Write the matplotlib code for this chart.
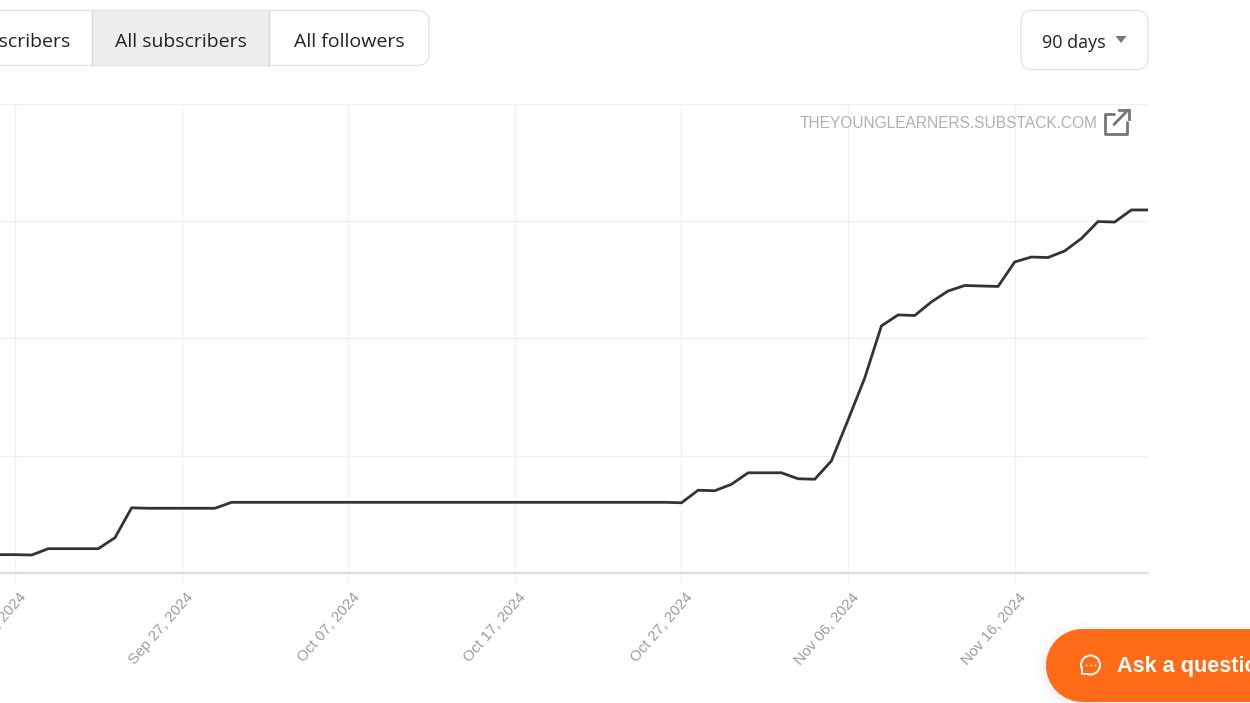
import datetime as dt
import matplotlib
matplotlib.use("Agg")
import matplotlib.pyplot as plt
import matplotlib.dates as mdates
from matplotlib.patches import FancyBboxPatch, Rectangle, Polygon, Circle

# daily values, first day is Sep 16 (y labels are cut off, so units are a guess)
start_day = dt.date(2024, 9, 16)
subscribers = [
    15.4, 15.4, 15.1, 20.5, 20.5, 20.5, 20.5, 29.9, 55.4, 55.0,
    55.0, 55.0, 55.0, 55.0, 60.1, 60.1, 60.1, 60.1, 60.1, 60.1,
    60.1, 60.1, 60.1, 60.1, 60.1, 60.1, 60.1, 60.1, 60.1, 60.1,
    60.1, 60.1, 60.1, 60.1, 60.1, 60.1, 60.1, 60.1, 60.1, 60.1,
    60.1, 59.7, 70.4, 70.0, 75.5, 85.3, 85.3, 85.3, 80.2, 79.8,
    95.5, 130.5, 166.3, 210.7, 220.1, 219.6, 231.2, 240.5, 245.2, 244.8,
    244.4, 265.3, 269.5, 269.1, 274.7, 285.3, 299.8, 299.4, 309.7, 309.7,
]
days = [start_day + dt.timedelta(days=i) for i in range(len(subscribers))]

tick_days = [dt.date(2024, 9, 17), dt.date(2024, 9, 27), dt.date(2024, 10, 7), dt.date(2024, 10, 17),
             dt.date(2024, 10, 27), dt.date(2024, 11, 6), dt.date(2024, 11, 16)]
y_ticks = [0, 100, 200, 300, 400]
tab_labels = ["Paid subscribers", "All subscribers", "All followers"]
range_label = "90 days"
site_label = "THEYOUNGLEARNERS.SUBSTACK.COM"
ask_label = "Ask a question"

W, H = 1250, 703
GRID = "#f1f1f1"
BORDER = "#e3e3e3"
UI_TEXT = "#222222"
ORANGE = "#ff6b17"

fig = plt.figure(figsize=(W / 100, H / 100), dpi=100)

# chart area, 0..1148 px across and 104..573 px down
ax = fig.add_axes([0, 1 - 572.7 / H, 1148 / W, (572.7 - 104.2) / H])
px_per_day = 16.67
ax.set_xlim(mdates.date2num(dt.date(2024, 9, 27)) - 181.7 / px_per_day, mdates.date2num(dt.date(2024, 11, 24)))
ax.set_ylim(0, 400)
ax.plot(days, subscribers, color="#333333", lw=2.0, solid_joinstyle="round", zorder=3)

ax.set_xticks(tick_days)
ax.set_xticklabels([])
# the labels sit a little right of their ticks, so they are placed with an offset
for d in tick_days:
    ax.annotate(d.strftime("%b %d, %Y"), xy=(mdates.date2num(d), 0), xycoords=("data", "axes fraction"),
                xytext=(2.5, -12.6), textcoords="offset points", rotation=49, ha="right", va="top",
                rotation_mode="anchor", fontsize=10.9, family="Liberation Sans", color="#9c9c9c",
                annotation_clip=False)
ax.set_yticks(y_ticks)
ax.tick_params(axis="x", length=7.2, width=1, color=GRID)
ax.tick_params(axis="y", length=0, labelleft=False)
ax.grid(True, color=GRID, lw=1)
ax.set_axisbelow(True)
for side in ["top", "right", "left"]:
    ax.spines[side].set_visible(False)
ax.spines["bottom"].set_color("#dedede")
ax.spines["bottom"].set_linewidth(1.6)

# page furniture on top, in pixel coordinates
ui = fig.add_axes([0, 0, 1, 1], facecolor="none")
ui.set_xlim(0, W)
ui.set_ylim(H, 0)
ui.axis("off")


def rounded(x0, y0, x1, y1, r, **kw):
    ui.add_patch(FancyBboxPatch((x0 + r, y0 + r), x1 - x0 - 2 * r, y1 - y0 - 2 * r,
                                boxstyle=f"round,pad={r},rounding_size={r}", **kw))


def pill(x0, y0, x1, y1, **kw):
    r = (y1 - y0) / 2
    ui.add_patch(Circle((x0 + r, y0 + r), r, ec="none", **kw))
    ui.add_patch(Rectangle((x0 + r, y0), x1 - x0 - r, y1 - y0, ec="none", **kw))


rounded(-30, 10.5, 429, 65.5, 12, fc="white", ec=BORDER, lw=1)
ui.add_patch(Rectangle((92, 11), 177, 54, fc="#eeeeee", ec="none"))
ui.plot([92, 92], [11, 65], color="#dddddd", lw=1)
ui.plot([269, 269], [11, 65], color="#d5d5d5", lw=1)
ui.text(70, 42, tab_labels[0], ha="right", va="center", fontsize=14, family="Open Sans", color=UI_TEXT)
ui.text(181, 42, tab_labels[1], ha="center", va="center", fontsize=14, family="Open Sans", color=UI_TEXT)
ui.text(349.5, 42, tab_labels[2], ha="center", va="center", fontsize=14, family="Open Sans", color=UI_TEXT)

rounded(1021, 10.5, 1148, 69.5, 12, fc="white", ec=BORDER, lw=1)
ui.text(1074, 43, range_label, ha="center", va="center", fontsize=13, family="Open Sans", color=UI_TEXT)
ui.add_patch(Polygon([[1115.5, 36], [1126.5, 36], [1121, 43]], closed=True, fc="#777777", ec="none"))

ui.text(1097.5, 123, site_label, ha="right", va="center", fontsize=11.2, family="Liberation Sans", color="#b0b0b0")
# external link icon
ui.plot([1114, 1104.5, 1104.5, 1126.5, 1126.5], [113.5, 113.5, 133.5, 133.5, 122], color="#757575", lw=2.0,
        solid_joinstyle="round", solid_capstyle="round")
ui.plot([1114, 1128], [124.5, 110], color="#757575", lw=2.0, solid_capstyle="round")
ui.plot([1119, 1128.5, 1128.5], [110, 110, 119], color="#757575", lw=2.0, solid_joinstyle="miter")

# orange help button with a soft shadow
for grow, alpha in [(9, 0.012), (6, 0.015), (3, 0.02)]:
    pill(1046 - grow, 629 - grow + 3, 1320 + grow, 702 + grow + 3, fc="black", alpha=alpha)
pill(1046, 629, 1320, 702, fc=ORANGE)
ui.text(1117, 666.5, ask_label, ha="left", va="center", fontsize=15.6, fontweight="bold",
        family="Liberation Sans", color="white")
ui.add_patch(Circle((1090.5, 665), 9.5, fc="none", ec="white", lw=1.4))
ui.add_patch(Polygon([[1081, 665], [1081, 675], [1090, 674.5]], closed=True, fc="white", ec="none", alpha=0.9))
ui.add_patch(Polygon([[1083, 666], [1083, 672.5], [1090, 672.5]], closed=True, fc=ORANGE, ec="none"))
ui.plot([1086, 1090.5, 1095], [665, 665, 665], ls="none", marker="o", ms=1.3, mew=0, color="white")

fig.savefig("out.png", dpi=100)
